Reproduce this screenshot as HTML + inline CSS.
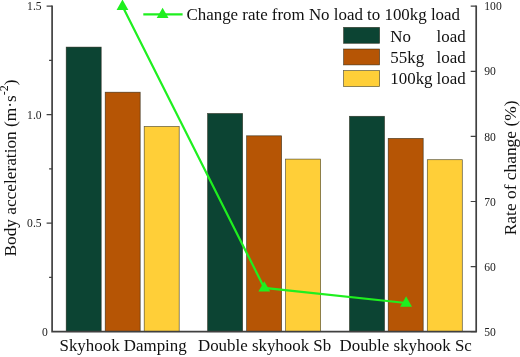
<!DOCTYPE html>
<html><head><meta charset="utf-8"><title>chart</title><style>html,body{margin:0;padding:0;background:#fff}body{width:520px;height:357px;overflow:hidden}</style></head><body>
<svg width="520" height="357" viewBox="0 0 520 357" style="display:block;font-family:'Liberation Serif',serif">
<rect width="520" height="357" fill="#fff"/>
<rect x="66.2" y="47.1" width="35.0" height="284.6" fill="#0C4433" stroke="#1a1a0a" stroke-opacity="0.7" stroke-width="0.7"/>
<rect x="105.2" y="92.2" width="35.0" height="239.5" fill="#B65505" stroke="#1a1a0a" stroke-opacity="0.7" stroke-width="0.7"/>
<rect x="144.2" y="126.5" width="35.0" height="205.2" fill="#FFCF38" stroke="#1a1a0a" stroke-opacity="0.7" stroke-width="0.7"/>
<rect x="207.6" y="113.5" width="35.0" height="218.2" fill="#0C4433" stroke="#1a1a0a" stroke-opacity="0.7" stroke-width="0.7"/>
<rect x="246.6" y="135.8" width="35.0" height="195.9" fill="#B65505" stroke="#1a1a0a" stroke-opacity="0.7" stroke-width="0.7"/>
<rect x="285.6" y="159.1" width="35.0" height="172.6" fill="#FFCF38" stroke="#1a1a0a" stroke-opacity="0.7" stroke-width="0.7"/>
<rect x="349.5" y="116.3" width="35.0" height="215.4" fill="#0C4433" stroke="#1a1a0a" stroke-opacity="0.7" stroke-width="0.7"/>
<rect x="388.2" y="138.4" width="35.0" height="193.3" fill="#B65505" stroke="#1a1a0a" stroke-opacity="0.7" stroke-width="0.7"/>
<rect x="427.3" y="159.7" width="35.0" height="172.0" fill="#FFCF38" stroke="#1a1a0a" stroke-opacity="0.7" stroke-width="0.7"/>
<g stroke="#404040" fill="none">
<path d="M52.1 5.6000000000000005 V331.7 H476.2 V5.6000000000000005" stroke-width="1.7"/>
<path d="M49.1 277.4H52.1M46.6 223.2H52.1M49.1 168.9H52.1M46.6 114.7H52.1M49.1 60.4H52.1M46.6 6.2H52.1M470.7 331.7H476.2M470.7 266.6H476.2M470.7 201.5H476.2M470.7 136.4H476.2M470.7 71.3H476.2M470.7 6.2H476.2" stroke-width="1.2"/>
</g>
<g font-size="12" fill="#222">
<text x="47.9" y="335.8" text-anchor="end" textLength="5.8" lengthAdjust="spacingAndGlyphs">0</text>
<text x="41.6" y="227.3" text-anchor="end" textLength="14.5" lengthAdjust="spacingAndGlyphs">0.5</text>
<text x="41.6" y="118.8" text-anchor="end" textLength="14.5" lengthAdjust="spacingAndGlyphs">1.0</text>
<text x="41.6" y="10.3" text-anchor="end" textLength="14.5" lengthAdjust="spacingAndGlyphs">1.5</text>
<text x="484.3" y="335.8" textLength="11.6" lengthAdjust="spacingAndGlyphs">50</text>
<text x="484.3" y="270.7" textLength="11.6" lengthAdjust="spacingAndGlyphs">60</text>
<text x="484.3" y="205.6" textLength="11.6" lengthAdjust="spacingAndGlyphs">70</text>
<text x="484.3" y="140.5" textLength="11.6" lengthAdjust="spacingAndGlyphs">80</text>
<text x="484.3" y="75.4" textLength="11.6" lengthAdjust="spacingAndGlyphs">90</text>
<text x="484.3" y="10.3" textLength="17.4" lengthAdjust="spacingAndGlyphs">100</text>
</g>
<polyline points="122.5,6.2 264.3,287.9 406.1,303.0" fill="none" stroke="#1FEF1F" stroke-width="2.2"/>
<path d="M116.6 9.9L128.4 9.9L122.5 -0.5Z" fill="#1FEF1F"/>
<path d="M258.4 291.6L270.2 291.6L264.3 281.2Z" fill="#1FEF1F"/>
<path d="M400.2 306.7L412.0 306.7L406.1 296.3Z" fill="#1FEF1F"/>
<path d="M143.3 14.4H182.6" stroke="#1FEF1F" stroke-width="2.2"/>
<path d="M156.7 18.1L168.5 18.1L162.6 7.7Z" fill="#1FEF1F"/>
<g font-size="16.9" fill="#111">
<text x="186.5" y="20.2">Change rate from No load to 100kg load</text>
<rect x="343.6" y="27.4" width="36" height="15.9" fill="#0C4433" stroke="#1a1a0a" stroke-opacity="0.7" stroke-width="0.7"/>
<text x="390.3" y="41.6">No</text>
<text x="465.6" y="41.6" text-anchor="end">load</text>
<rect x="343.6" y="49.0" width="36" height="15.9" fill="#B65505" stroke="#1a1a0a" stroke-opacity="0.7" stroke-width="0.7"/>
<text x="390.3" y="62.9">55kg</text>
<text x="465.6" y="62.9" text-anchor="end">load</text>
<rect x="343.6" y="70.6" width="36" height="15.9" fill="#FFCF38" stroke="#1a1a0a" stroke-opacity="0.7" stroke-width="0.7"/>
<text x="390.3" y="83.7">100kg</text>
<text x="465.6" y="83.7" text-anchor="end">load</text>
<text x="123.1" y="351.0" text-anchor="middle" >Skyhook Damping</text>
<text x="264.6" y="351.0" text-anchor="middle" >Double skyhook Sb</text>
<text x="405.7" y="351.0" text-anchor="middle" >Double skyhook Sc</text>
<text transform="translate(16.4 168) rotate(-90)" text-anchor="middle" font-size="17.3">Body acceleration (m·s<tspan font-size="12" dy="-8.5">-2</tspan><tspan dy="8.5">)</tspan></text>
<text transform="translate(515.5 167.9) rotate(-90)" text-anchor="middle" font-size="17.4">Rate of change (%)</text>
</g>
</svg>
</body></html>
